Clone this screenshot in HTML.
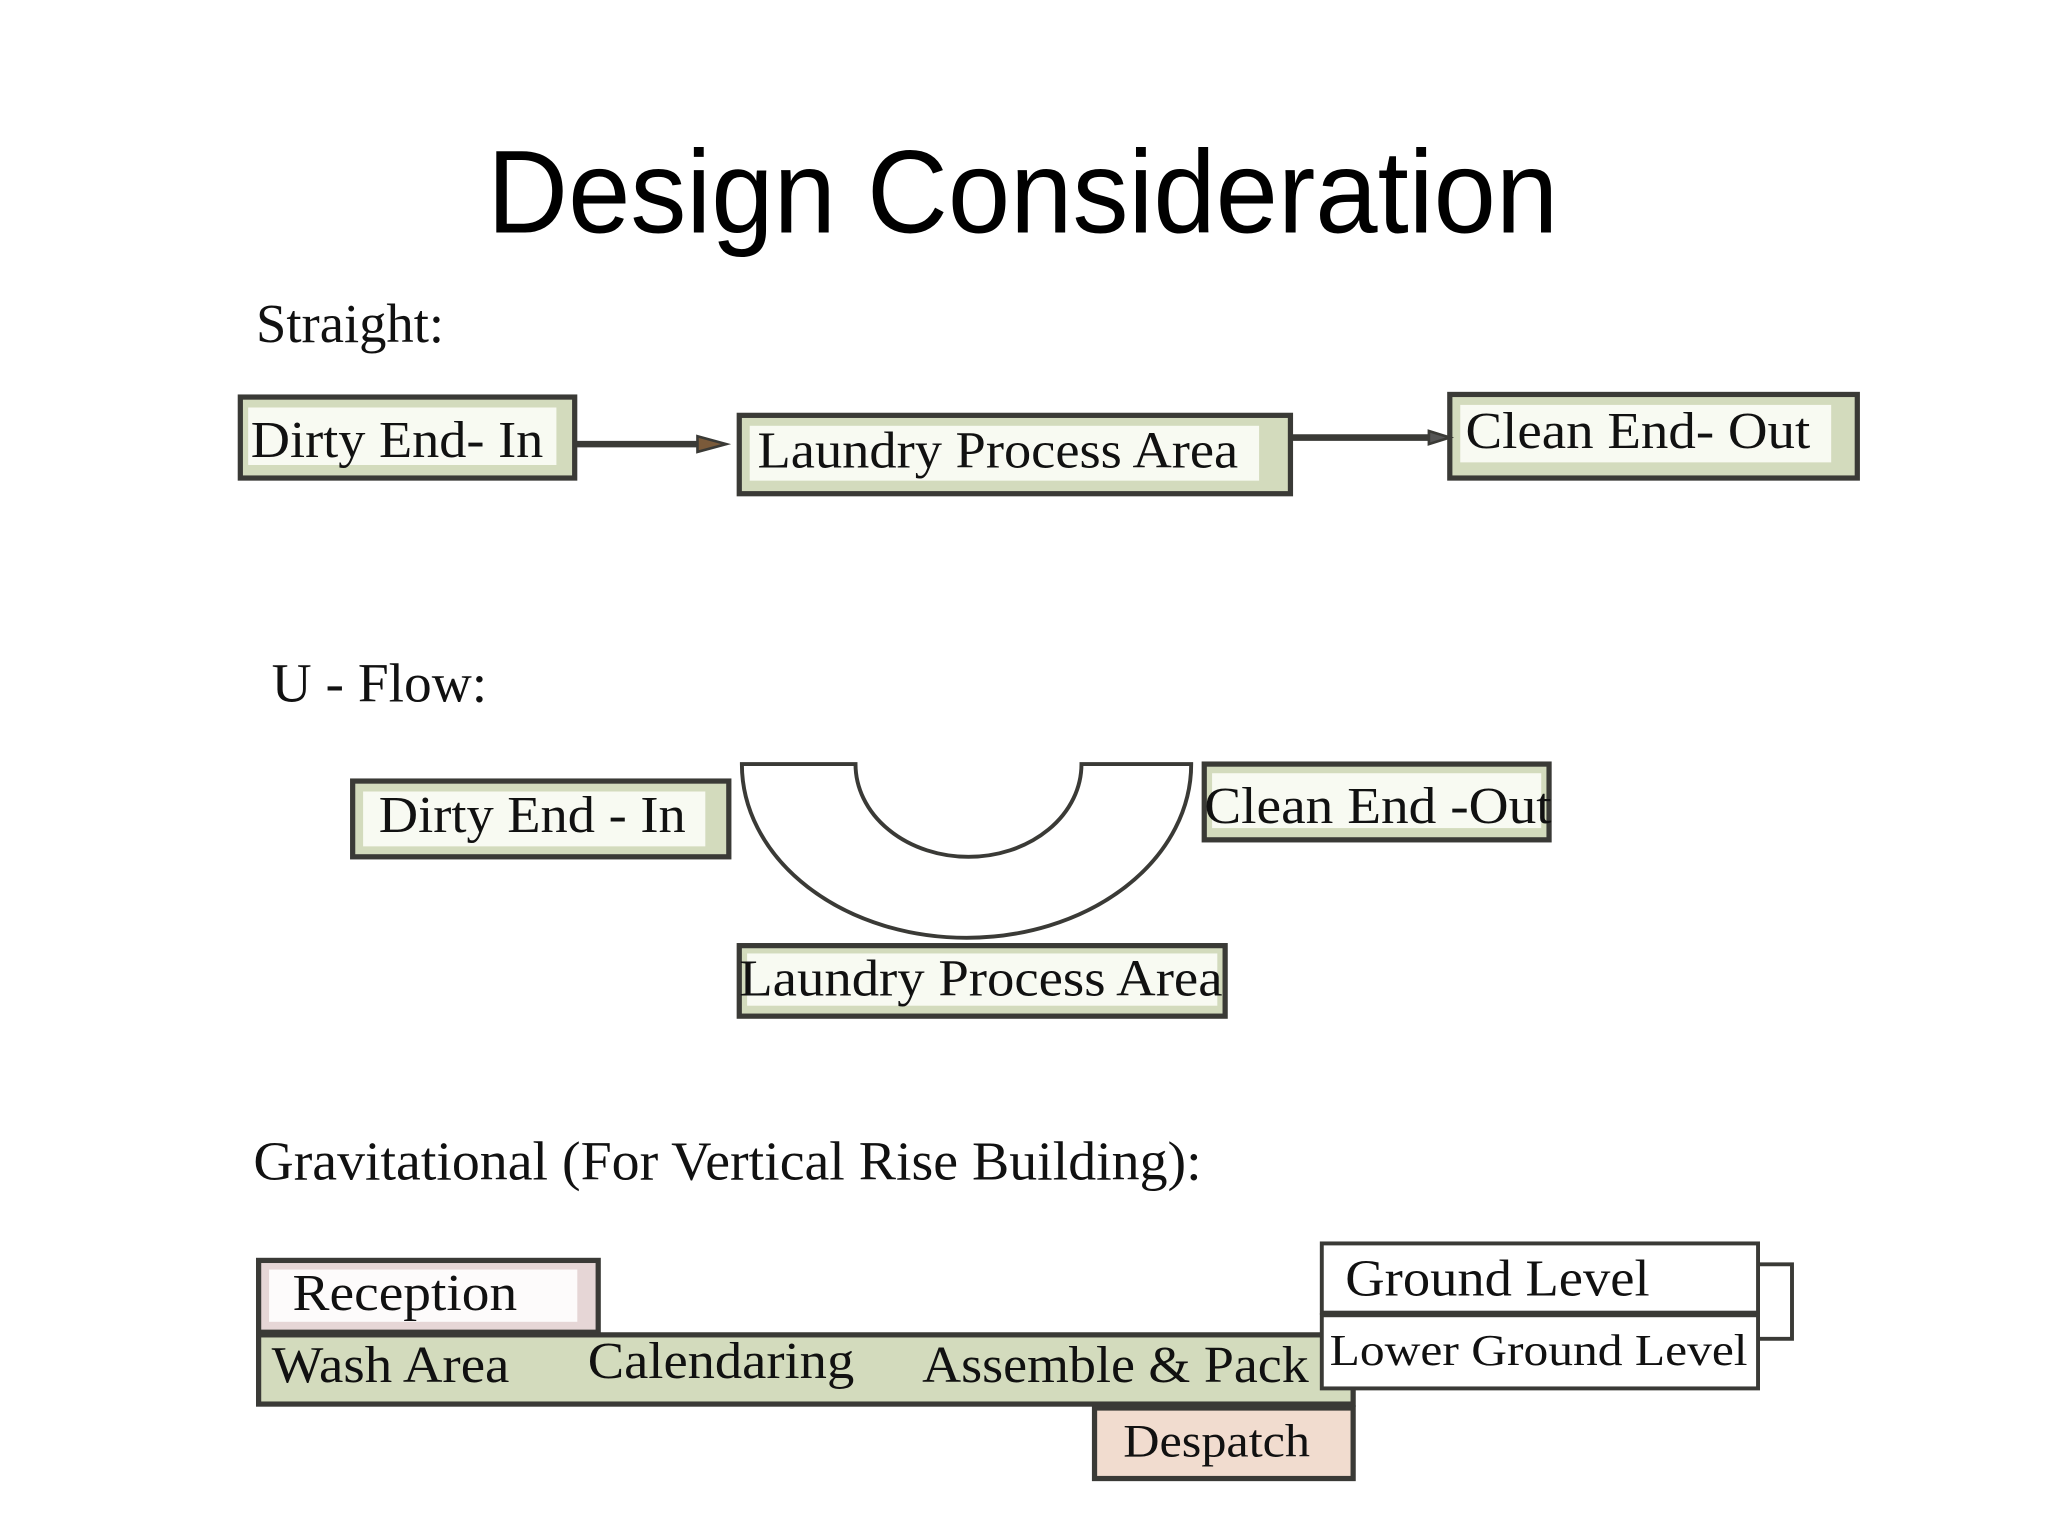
<!DOCTYPE html>
<html><head><style>html,body{margin:0;padding:0;background:#fff;}svg{display:block}</style></head>
<body>
<svg width="2048" height="1536" viewBox="0 0 1568 1176" preserveAspectRatio="none" xmlns="http://www.w3.org/2000/svg">
<rect width="1568" height="1176" fill="#fff"/>
<text x="373" y="178" font-family="Liberation Sans, sans-serif" font-size="90" textLength="820" lengthAdjust="spacingAndGlyphs" fill="#000">Design Consideration</text>
<g font-family="Liberation Serif, serif" fill="#111">
<text x="196" y="262" font-size="42" textLength="144" lengthAdjust="spacingAndGlyphs">Straight:</text>
<text x="208" y="537" font-size="42" textLength="165" lengthAdjust="spacingAndGlyphs">U - Flow:</text>
<text x="194" y="903" font-size="42" textLength="726" lengthAdjust="spacingAndGlyphs">Gravitational (For Vertical Rise Building):</text>
</g>
<g stroke="#3a3a36" stroke-width="4">
<rect x="184" y="304" width="256" height="62" fill="#d3dbbd"/>
<rect x="566" y="318" width="422" height="60" fill="#d3dbbd"/>
<rect x="1110" y="302" width="312" height="64" fill="#d3dbbd"/>
<line x1="440" y1="340" x2="548" y2="340" stroke-width="5"/>
<path d="M534 334 L556 340 L534 346 Z" fill="#7a5a3a" stroke-width="2"/>
<line x1="988" y1="335" x2="1100" y2="335" stroke-width="5"/>
<path d="M1094 330 L1110 335 L1094 340 Z" fill="#555" stroke-width="2"/>
<rect x="270" y="598" width="288" height="58" fill="#d3dbbd"/>
<rect x="922" y="585" width="264" height="58" fill="#d3dbbd"/>
<rect x="566" y="724" width="372" height="54" fill="#d3dbbd"/>
<path d="M568 585 L655 585 A86.5 71 0 0 0 828 585 L912 585 A172 133 0 0 1 568 585 Z" fill="#fff" stroke-width="3"/>
<rect x="198" y="965" width="260" height="55" fill="#e6d6d6"/>
<rect x="198" y="1022" width="838" height="53" fill="#d3dbbd"/>
<rect x="838" y="1078" width="198" height="54" fill="#f1dccf"/>
<rect x="1012" y="952" width="334" height="53" fill="#fff" stroke-width="3"/>
<rect x="1012" y="1007" width="334" height="56" fill="#fff" stroke-width="3"/>
<path d="M1346 968 L1372 968 L1372 1025 L1346 1025" fill="none" stroke-width="3"/>
</g>
<g fill="#f8faf2">
<rect x="190" y="312" width="236" height="44"/>
<rect x="574" y="326" width="390" height="42"/>
<rect x="1118" y="310" width="284" height="44"/>
<rect x="278" y="606" width="262" height="42"/>
<rect x="928" y="592" width="252" height="42"/>
<rect x="572" y="730" width="360" height="40"/>
<rect x="206" y="972" width="236" height="40" fill="#fdfbfb"/>
</g>
<g font-family="Liberation Serif, serif" fill="#111">
<text x="192" y="350" font-size="40" textLength="224" lengthAdjust="spacingAndGlyphs">Dirty End- In</text>
<text x="580" y="358" font-size="40" textLength="368" lengthAdjust="spacingAndGlyphs">Laundry Process Area</text>
<text x="1122" y="343" font-size="40" textLength="264" lengthAdjust="spacingAndGlyphs">Clean End- Out</text>
<text x="290" y="637" font-size="40" textLength="235" lengthAdjust="spacingAndGlyphs">Dirty End - In</text>
<text x="922" y="630" font-size="40" textLength="266" lengthAdjust="spacingAndGlyphs">Clean End -Out</text>
<text x="566" y="762" font-size="40" textLength="370" lengthAdjust="spacingAndGlyphs">Laundry Process Area</text>
<text x="224" y="1003" font-size="40" textLength="172" lengthAdjust="spacingAndGlyphs">Reception</text>
<text x="208" y="1058" font-size="40" textLength="182" lengthAdjust="spacingAndGlyphs">Wash Area</text>
<text x="450" y="1055" font-size="40" textLength="204" lengthAdjust="spacingAndGlyphs">Calendaring</text>
<text x="706" y="1058" font-size="40" textLength="296" lengthAdjust="spacingAndGlyphs">Assemble &amp; Pack</text>
<text x="860" y="1115" font-size="36" textLength="143" lengthAdjust="spacingAndGlyphs">Despatch</text>
<text x="1030" y="992" font-size="40" textLength="233" lengthAdjust="spacingAndGlyphs">Ground Level</text>
<text x="1018" y="1045" font-size="34" textLength="320" lengthAdjust="spacingAndGlyphs">Lower Ground Level</text>
</g>
</svg>
</body></html>
